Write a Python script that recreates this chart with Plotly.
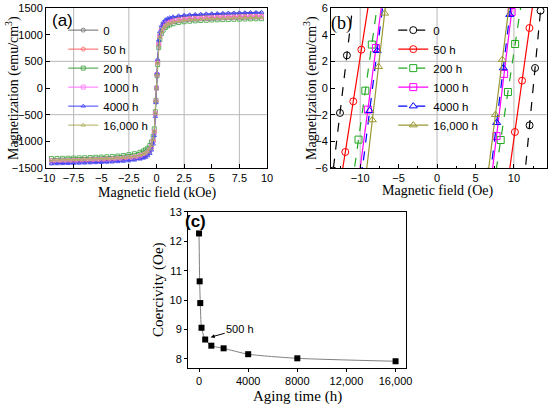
import plotly.graph_objects as go

# -----------------------------
# Shared series info
# -----------------------------
labels = ["0", "50 h", "200 h", "1000 h", "4000 h", "16,000 h"]
colors_a = ["#6a6a6a", "#ff6060", "#3aa03a", "#ff70ff", "#4040ff", "#b0b060"]
colors_b = ["#000000", "#ff0000", "#22aa22", "#ff00ff", "#0000ff", "#999933"]
symbols = ["circle-open", "circle-open", "square-open", "square-open",
           "triangle-up-open", "triangle-up-open"]
dashes = ["dash", "solid", "dash", "solid", "dash", "solid"]

# -----------------------------
# (a) full loops, field in kOe
# -----------------------------
field_koe = [-9.5, -9, -8.5, -8, -7.5, -7, -6.5, -6, -5.5, -5, -4.5, -4, -3.5, -3,
             -2.5, -2, -1.5, -1.2, -1, -0.8, -0.6, -0.45, -0.3, -0.2, -0.1, -0.05,
             0,
             0.05, 0.1, 0.2, 0.3, 0.45, 0.6, 0.8, 1, 1.2, 1.5, 2, 2.5, 3, 3.5, 4,
             4.5, 5, 5.5, 6, 6.5, 7, 7.5, 8, 8.5, 9, 9.5]

m_0h = [-1400, -1398, -1395, -1393, -1390, -1387, -1384, -1380, -1376, -1372, -1367,
        -1362, -1355, -1348, -1338, -1325, -1305, -1287, -1268, -1238, -1188, -1120,
        -1005, -845, -495, -255,
        0,
        260, 500, 850, 1010, 1125, 1195, 1245, 1275, 1293, 1312, 1332, 1345, 1354,
        1361, 1367, 1372, 1377, 1381, 1385, 1389, 1392, 1395, 1398, 1401, 1403, 1405]
m_50h = [-1362, -1360, -1358, -1355, -1353, -1350, -1347, -1344, -1340, -1336, -1332,
         -1327, -1321, -1314, -1305, -1292, -1272, -1255, -1236, -1208, -1160, -1092,
         -980, -825, -482, -248,
         0,
         250, 480, 820, 975, 1085, 1150, 1198, 1225, 1242, 1260, 1280, 1292, 1301,
         1308, 1314, 1319, 1323, 1327, 1331, 1334, 1337, 1340, 1343, 1346, 1348, 1350]
m_200h = [-1322, -1320, -1318, -1316, -1313, -1310, -1307, -1303, -1299, -1294, -1289,
          -1283, -1275, -1265, -1250, -1232, -1205, -1182, -1160, -1128, -1078, -1010,
          -905, -765, -445, -232,
          0,
          230, 440, 760, 910, 1020, 1085, 1135, 1165, 1185, 1205, 1228, 1242, 1252,
          1259, 1265, 1270, 1275, 1279, 1282, 1285, 1288, 1291, 1294, 1296, 1298, 1300]
m_1000h = [-1366, -1364, -1362, -1359, -1357, -1354, -1351, -1348, -1344, -1340, -1335,
           -1330, -1324, -1317, -1308, -1294, -1274, -1256, -1237, -1208, -1158, -1090,
           -978, -822, -480, -248,
           0,
           250, 480, 815, 965, 1075, 1140, 1188, 1215, 1232, 1250, 1270, 1282, 1291,
           1297, 1303, 1308, 1312, 1316, 1319, 1322, 1325, 1328, 1330, 1332, 1334, 1335]
m_4000h = [-1422, -1420, -1418, -1416, -1413, -1410, -1407, -1404, -1400, -1396, -1392,
           -1387, -1381, -1374, -1365, -1352, -1333, -1316, -1300, -1272, -1228, -1162,
           -1050, -890, -535, -275,
           0,
           280, 540, 900, 1060, 1170, 1235, 1280, 1305, 1320, 1337, 1355, 1366, 1374,
           1381, 1386, 1391, 1395, 1399, 1402, 1405, 1408, 1411, 1414, 1416, 1418, 1420]
m_16000h = [-1352, -1350, -1348, -1346, -1343, -1340, -1337, -1334, -1330, -1326, -1321,
            -1316, -1310, -1303, -1294, -1280, -1260, -1242, -1222, -1193, -1145, -1078,
            -968, -812, -472, -243,
            0,
            245, 470, 800, 950, 1060, 1125, 1172, 1200, 1218, 1237, 1257, 1270, 1279,
            1286, 1292, 1297, 1301, 1305, 1308, 1311, 1314, 1317, 1320, 1322, 1324, 1325]
loops_a = [m_0h, m_50h, m_200h, m_1000h, m_4000h, m_16000h]

# -----------------------------
# (b) zoom near M = 0, field in Oe (descending / ascending branch)
# -----------------------------
h_desc = [
    [-10.84, -11.73, -12.63, -13.52],
    [-8.79, -9.85, -10.90, -11.94, -13.00],
    [-7.63, -8.49, -9.33, -10.22, -11.08],
    [-6.90, -7.95, -9.00, -10.07],
    [-6.81, -7.79, -8.77, -9.75],
    [-6.02, -6.82, -7.62, -8.42, -9.22],
]
m_desc = [
    [6.77, 2.45, -1.87, -6.19],
    [6.75, 2.88, -1.0, -4.8, -8.7],
    [6.8, 3.26, -0.2, -3.87, -7.4],
    [7.6, 3.0, -1.62, -6.3],
    [7.3, 2.8, -1.7, -6.2],
    [9.6, 5.6, 1.6, -2.4, -6.4],
]
h_asc = [
    [11.32, 12.04, 12.75, 13.46, 14.18],
    [9.20, 10.13, 11.06, 12.02, 12.97],
    [7.34, 8.28, 9.22, 10.16, 11.10],
    [6.77, 7.74, 8.72, 9.70, 10.67],
    [6.89, 7.75, 8.62, 9.46, 10.32],
    [6.68, 7.59, 8.49, 9.40],
]
m_asc = [
    [-7.1, -2.8, 1.5, 5.8, 10.1],
    [-7.1, -3.3, 0.55, 4.5, 8.4],
    [-7.5, -3.9, -0.3, 3.3, 6.9],
    [-8.2, -3.6, 1.06, 5.7, 10.3],
    [-6.7, -2.6, 1.5, 5.5, 9.6],
    [-6.2, -2.0, 2.13, 6.3],
]

# -----------------------------
# (c) coercivity vs aging time
# -----------------------------
aging_h = [0, 50, 100, 200, 500, 1000, 2000, 4000, 8000, 16000]
coercivity = [12.27, 10.64, 9.90, 9.06, 8.66, 8.45, 8.36, 8.16, 8.02, 7.92]
c_ticks = [0, 4000, 8000, 12000, 16000]
c_ticktext = ["0", "4000", "8000", "12,000", "16,000"]

a_grid_x = [-7.5, -2.5, 2.5, 7.5]
a_grid_y = [-500, 500]
b_grid_x = [-10, 0, 10]
b_grid_y = [-2, 2]

SANS = "Liberation Sans"
SERIF = "Liberation Serif"

fig = go.Figure()

for i, name in enumerate(labels):
    fig.add_trace(go.Scatter(
        x=field_koe, y=loops_a[i], name=name, mode="lines+markers",
        line=dict(color=colors_a[i], width=1),
        marker=dict(symbol=symbols[i], size=4, color=colors_a[i], line=dict(width=0.8)),
        xaxis="x", yaxis="y", legend="legend",
    ))

for i, name in enumerate(labels):
    fig.add_trace(go.Scatter(
        x=h_desc[i] + [None] + h_asc[i],
        y=m_desc[i] + [None] + m_asc[i],
        name=name, mode="lines+markers",
        line=dict(color=colors_b[i], width=1.2, dash=dashes[i]),
        marker=dict(symbol=symbols[i], size=7, color=colors_b[i], line=dict(width=1)),
        xaxis="x2", yaxis="y2", legend="legend2",
    ))

fig.add_trace(go.Scatter(
    x=aging_h, y=coercivity, mode="lines+markers", showlegend=False,
    line=dict(color="#808080", width=1, shape="spline", smoothing=0.6),
    marker=dict(symbol="square", size=6, color="black"),
    xaxis="x3", yaxis="y3",
))

# gridlines (only every other tick in the original)
grid_line = dict(color="#b8b8b8", width=1)
shapes = []
for v in a_grid_x:
    shapes.append(dict(type="line", xref="x", yref="y domain", x0=v, x1=v, y0=0, y1=1,
                       line=grid_line, layer="below"))
for v in a_grid_y:
    shapes.append(dict(type="line", xref="x domain", yref="y", x0=0, x1=1, y0=v, y1=v,
                       line=grid_line, layer="below"))
for v in b_grid_x:
    shapes.append(dict(type="line", xref="x2", yref="y2 domain", x0=v, x1=v, y0=0, y1=1,
                       line=grid_line, layer="below"))
for v in b_grid_y:
    shapes.append(dict(type="line", xref="x2 domain", yref="y2", x0=0, x1=1, y0=v, y1=v,
                       line=grid_line, layer="below"))

tick_font = dict(family=SANS, size=11, color="black")
frame = dict(showline=True, linecolor="black", linewidth=1, mirror=True,
             showgrid=False, zeroline=False, tickfont=tick_font,
             tickcolor="black", automargin=False)
legend_style = dict(xanchor="left", yanchor="top", bgcolor="rgba(0,0,0,0)",
                    itemwidth=30, tracegroupgap=0,
                    font=dict(family=SANS, size=11.5, color="black"))


def axis_title(text, x, y, size=14, vertical=False):
    # axis titles placed as paper annotations for exact positioning
    return dict(text=text, xref="paper", yref="paper", x=x / 550, y=1 - y / 411,
                xanchor="center", yanchor="middle", showarrow=False,
                textangle=-90 if vertical else 0,
                font=dict(family=SERIF, size=size, color="black"))


fig.update_layout(
    width=550, height=411,
    margin=dict(l=0, r=0, t=0, b=0),
    paper_bgcolor="white", plot_bgcolor="white",
    shapes=shapes,
    xaxis=dict(domain=[0.0836, 0.4855], range=[-10, 10], tick0=-10, dtick=2.5,
               ticks="inside", ticklen=4, anchor="y", **frame),
    yaxis=dict(domain=[0.5912, 0.9805], range=[-1500, 1500], dtick=500,
               ticks="inside", ticklen=4, anchor="x", **frame),
    xaxis2=dict(domain=[0.6018, 0.9945], range=[-13.8, 14.3], tick0=0, dtick=5,
                ticks="inside", ticklen=4, anchor="y2",
                minor=dict(dtick=2.5, ticks="inside", ticklen=2, tickcolor="black"),
                **frame),
    yaxis2=dict(domain=[0.5912, 0.9805], range=[-6, 6], dtick=2,
                ticks="inside", ticklen=4, anchor="x2", **frame),
    xaxis3=dict(domain=[0.3418, 0.7382], range=[-900, 16850], tickvals=c_ticks,
                ticktext=c_ticktext, ticks="outside", ticklen=3, anchor="y3", **frame),
    yaxis3=dict(domain=[0.1046, 0.4842], range=[7.69, 13], dtick=1,
                ticks="outside", ticklen=3, anchor="x3", **frame),
    legend=dict(x=0.115, y=0.962, **legend_style),
    legend2=dict(x=0.715, y=0.962, **legend_style),
    annotations=[
        axis_title("Magnetic field (kOe)", 157, 193),
        axis_title("Magnetization (emu/cm<sup>3</sup>)", 13, 88, vertical=True),
        axis_title("Magnetic field (Oe)", 438, 191),
        axis_title("Magnetization (emu/cm<sup>3</sup>)", 311, 88, vertical=True),
        axis_title("Aging time (h)", 297, 396, size=15),
        axis_title("Coercivity (Oe)", 158, 290, size=15, vertical=True),
        dict(text="(a)", xref="x domain", yref="y domain", x=0.02, y=0.995,
             xanchor="left", yanchor="top", showarrow=False,
             font=dict(family=SANS, size=17, color="black")),
        dict(text="(b)", xref="x2 domain", yref="y2 domain", x=-0.01, y=0.98,
             xanchor="left", yanchor="top", showarrow=False,
             font=dict(family=SERIF, size=18, color="black")),
        dict(text="<b>(c)</b>", xref="x3 domain", yref="y3 domain", x=-0.025, y=1.01,
             xanchor="left", yanchor="top", showarrow=False,
             font=dict(family=SANS, size=17, color="black")),
        dict(text="500 h", xref="x3", yref="y3", x=950, y=8.74,
             axref="x3", ayref="y3", ax=3350, ay=9.02,
             showarrow=True, arrowhead=2, arrowsize=0.8, arrowwidth=1,
             arrowcolor="black", font=dict(family=SANS, size=11, color="black")),
    ],
)

# the page body has a default 8px margin; remove it so the figure fills the window
fig.write_html("out.html", config={"displayModeBar": False},
               post_script="document.body.style.margin='0';")
